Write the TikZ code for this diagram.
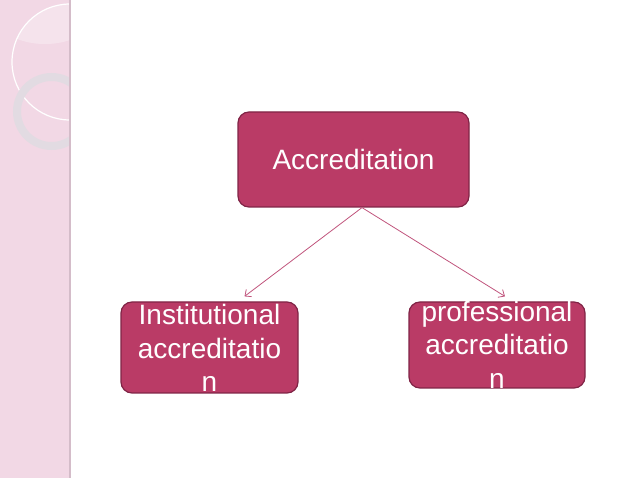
\documentclass[tikz,border=0pt]{standalone}
\usepackage{fontspec}
\setmainfont{Liberation Sans}
\usetikzlibrary{arrows.meta}
\usetikzlibrary{calc}

\definecolor{boxfill}{RGB}{186,59,102}
\definecolor{boxline}{RGB}{128,36,70}
\definecolor{linkcol}{RGB}{192,84,124}
\definecolor{stripbg}{RGB}{242,216,229}
\definecolor{stripedge}{RGB}{212,188,201}
\definecolor{ringgray}{RGB}{226,219,226}

\tikzset{
	catbox/.style={draw=boxline,line width=1.2pt,fill=boxfill,rounded corners=11pt,inner sep=0pt},
	boxtext/.style={text=white,align=center,inner sep=0pt,font=\fontsize{28}{33.5}\selectfont},
	link/.style={draw=linkcol,line width=0.8pt,-{Straight Barb[length=5pt,width=9pt]}}
}

\begin{document}
\begin{tikzpicture}[x=1pt,y=-1pt]
		\useasboundingbox (0,0) rectangle (638,478);
		
		% side strip
		\fill[stripbg] (0,0) rectangle (70,478);
		\begin{scope}
			\clip (0,0) rectangle (70,478);
			\begin{scope}
				\clip (70,62) circle (58);
				\fill[white,opacity=0.3] (45,0) ellipse (60 and 44);
			\end{scope}
			\draw[white,line width=1.2pt] (70,62) circle (58);
			\draw[ringgray,line width=8pt] (51.5,111.5) circle (34.5);
		\end{scope}
		\draw[stripedge,line width=1.5pt] (70,0) -- (70,478);
		
		\node[catbox,minimum width=231,minimum height=95,boxtext] (accr) at (353.5,159.5) {Accreditation};
		
		\node[catbox,minimum width=177,minimum height=91] (inst) at (209.5,347.5) {};
		\node[boxtext] (insttext) at (209.5,348) {Institutional\\accreditatio\\n};
		
		\node[catbox,minimum width=176,minimum height=86] (prof) at (497,345) {};
		\node[boxtext] (proftext) at (497,344.5) {professional\\accreditatio\\n};
		
		\coordinate (split) at ($(accr.south)+(8.5,0)$);
		\draw[link] (split) -- ($(inst.north)+(35,-5)$);
		\draw[link] (split) -- ($(prof.north)+(8,-5)$);
		
	\end{tikzpicture}
\end{document}
